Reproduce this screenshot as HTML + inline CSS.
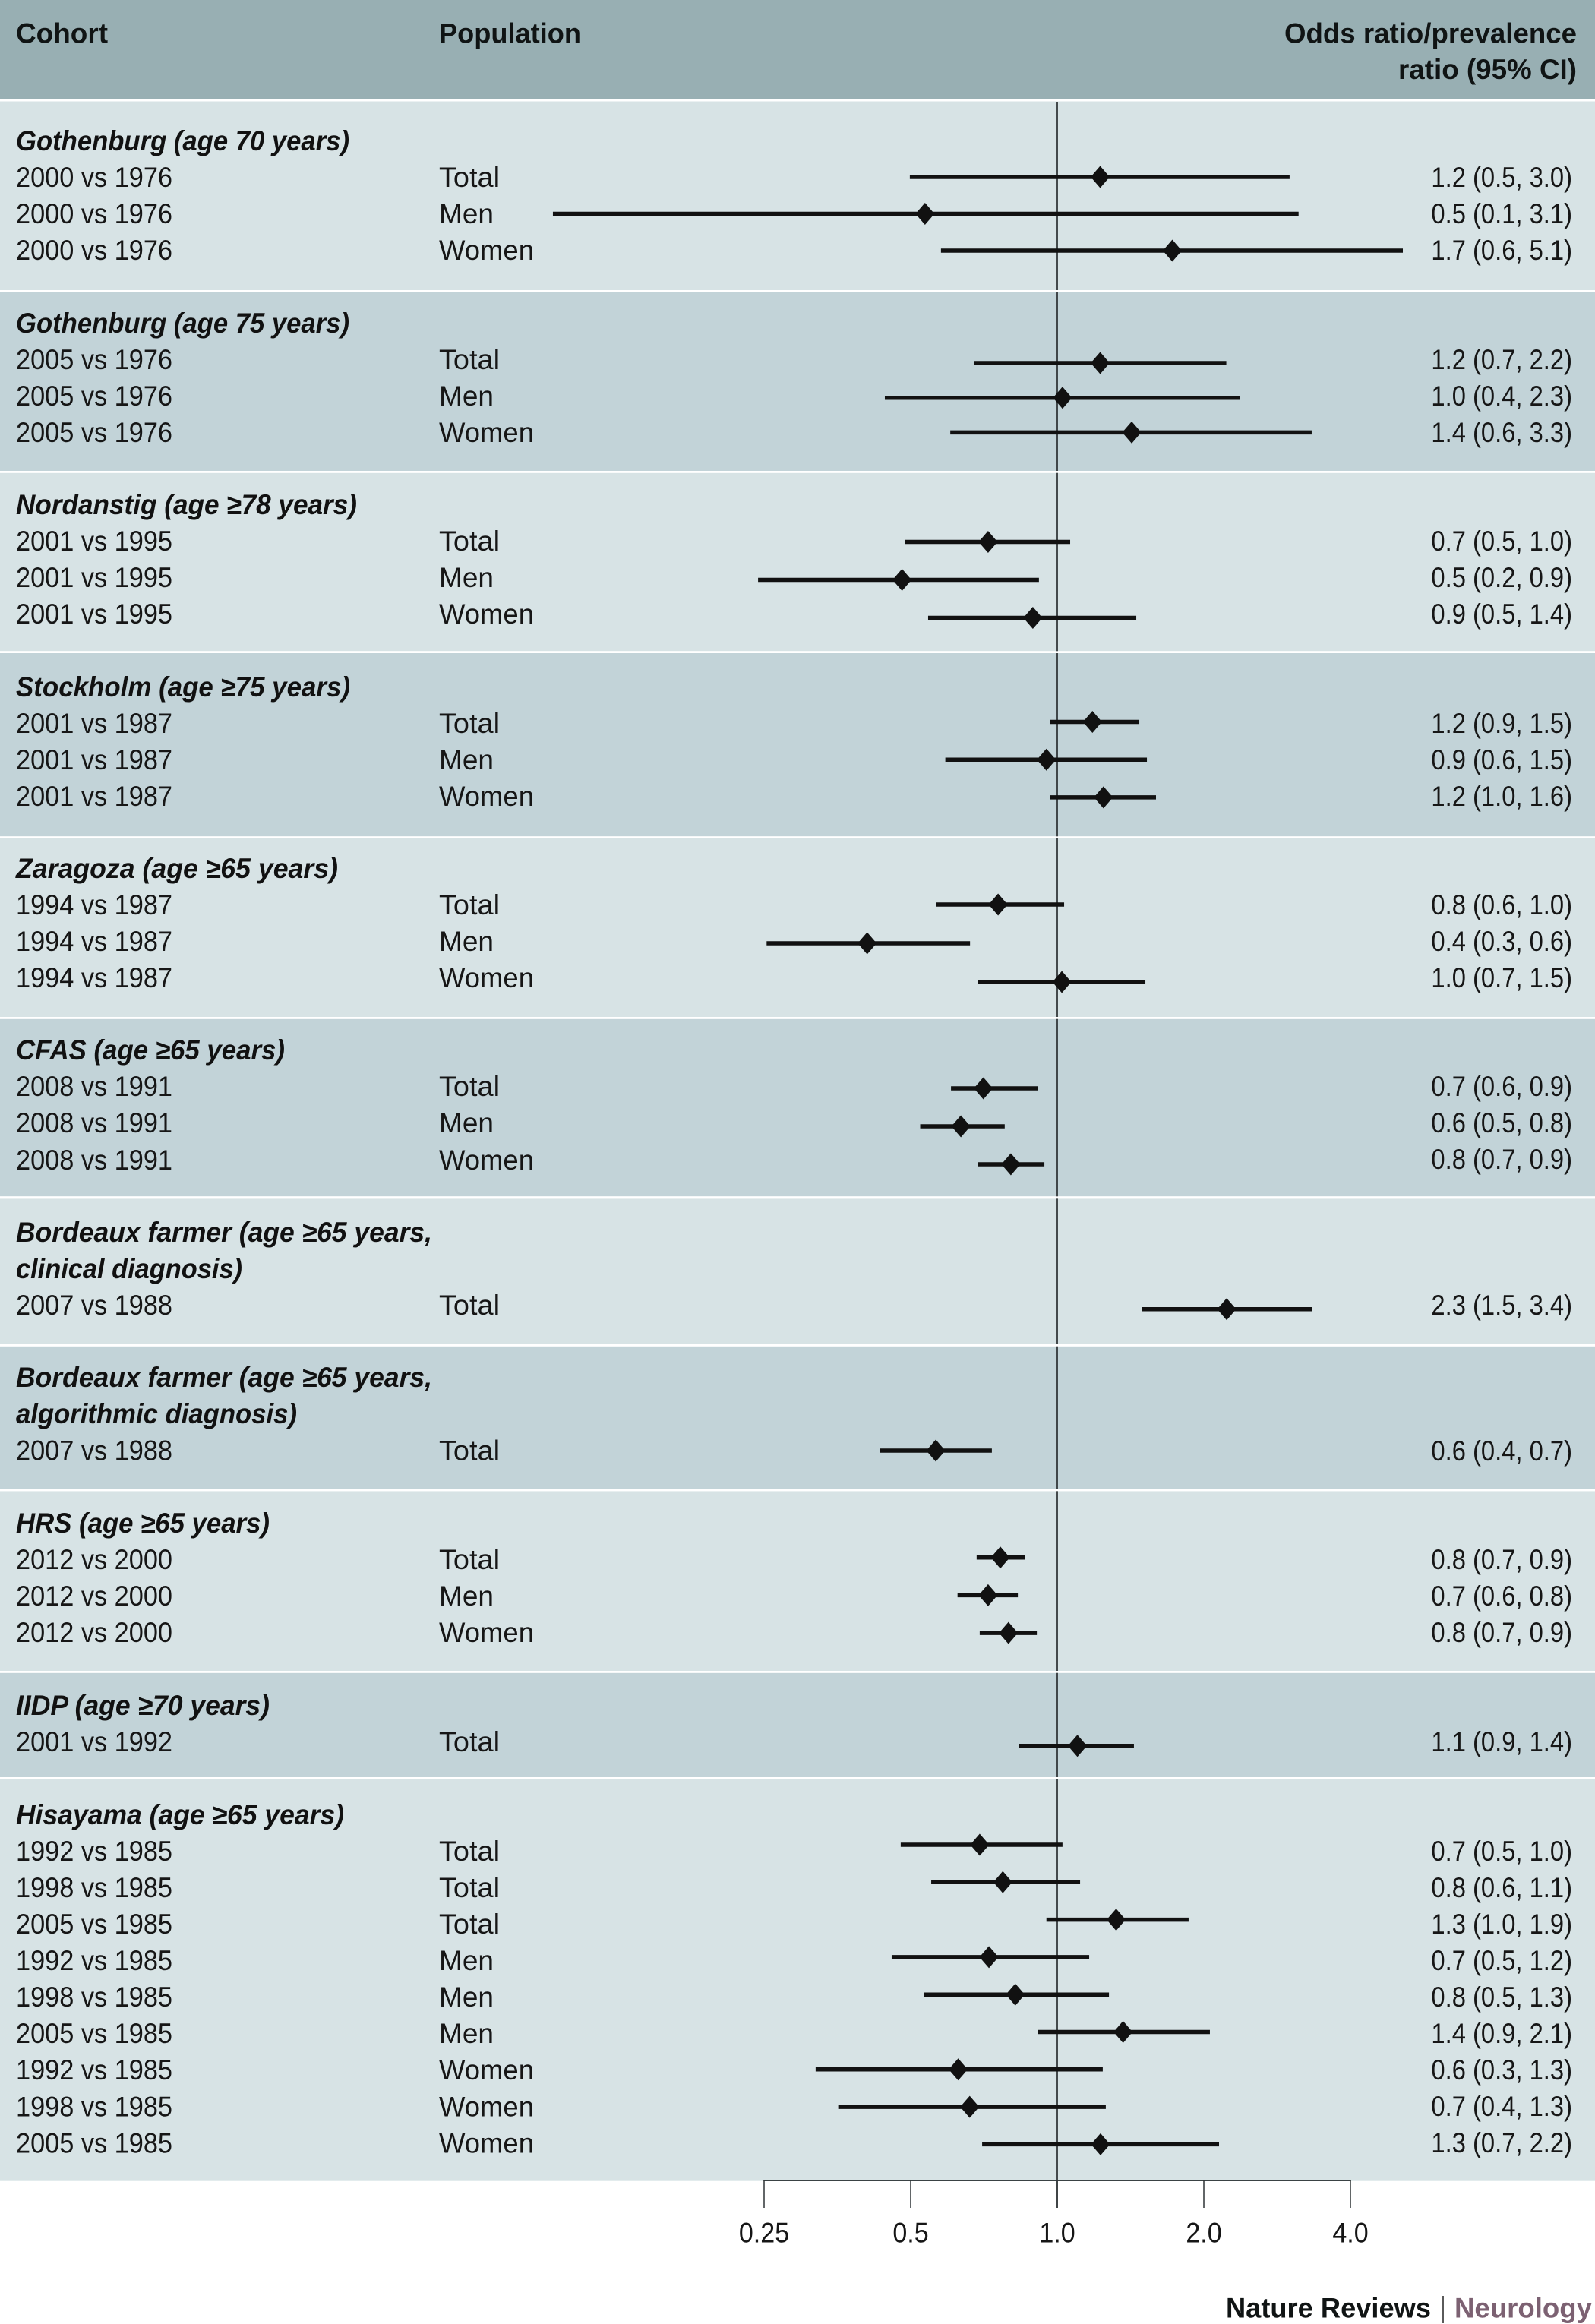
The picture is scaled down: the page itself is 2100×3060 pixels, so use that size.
<!DOCTYPE html>
<html lang="en">
<head>
<meta charset="utf-8">
<title>Forest plot of dementia prevalence cohorts</title>
<style>
html,body{margin:0;padding:0;background:#fff;width:2100px;height:3060px;overflow:hidden}
svg{display:block}
text{font-family:"Liberation Sans",sans-serif;font-size:37px;fill:#161616}
.hd{font-weight:700;fill:#101414}
.h{font-weight:700;font-style:italic;fill:#111}
</style>
</head>
<body>
<svg xmlns="http://www.w3.org/2000/svg" width="2100" height="3060" viewBox="0 0 2100 3060">
  <rect x="0" y="0" width="2100" height="3060" fill="#ffffff"/>
  <g>
    <rect x="0" y="0" width="2100" height="130.5" fill="#98afb3"/>
    <rect x="0" y="133.5" width="2100" height="248.5" fill="#d7e3e5"/>
    <rect x="0" y="385" width="2100" height="235" fill="#c2d3d8"/>
    <rect x="0" y="622.7" width="2100" height="234.6" fill="#d7e3e5"/>
    <rect x="0" y="860" width="2100" height="241.3" fill="#c2d3d8"/>
    <rect x="0" y="1104" width="2100" height="235" fill="#d7e3e5"/>
    <rect x="0" y="1341.7" width="2100" height="233.6" fill="#c2d3d8"/>
    <rect x="0" y="1578.3" width="2100" height="191.7" fill="#d7e3e5"/>
    <rect x="0" y="1772.7" width="2100" height="188" fill="#c2d3d8"/>
    <rect x="0" y="1963.3" width="2100" height="236.7" fill="#d7e3e5"/>
    <rect x="0" y="2202.7" width="2100" height="137.3" fill="#c2d3d8"/>
    <rect x="0" y="2342.7" width="2100" height="529" fill="#d7e3e5"/>
  </g>
  <g id="axis-layer"></g>
  <g fill="#ffffff">
    <rect x="0" y="382" width="2100" height="3"/>
    <rect x="0" y="620" width="2100" height="2.7"/>
    <rect x="0" y="857.3" width="2100" height="2.7"/>
    <rect x="0" y="1101.3" width="2100" height="2.7"/>
    <rect x="0" y="1339" width="2100" height="2.7"/>
    <rect x="0" y="1575.3" width="2100" height="3"/>
    <rect x="0" y="1770" width="2100" height="2.7"/>
    <rect x="0" y="1960.7" width="2100" height="2.6"/>
    <rect x="0" y="2200" width="2100" height="2.7"/>
    <rect x="0" y="2340" width="2100" height="2.7"/>
  </g>

  <g>
    <text class="hd" x="21" y="56.5" textLength="121" lengthAdjust="spacingAndGlyphs">Cohort</text>
    <text class="hd" x="578" y="56.5" textLength="187" lengthAdjust="spacingAndGlyphs">Population</text>
    <text class="hd" x="1691" y="56.5" textLength="385" lengthAdjust="spacingAndGlyphs">Odds ratio/prevalence</text>
    <text class="hd" x="1841" y="104" textLength="235" lengthAdjust="spacingAndGlyphs">ratio (95% CI)</text>
  </g>

  <g transform="translate(0 -0.8)">
    <text class="h" x="21" y="199" textLength="439" lengthAdjust="spacingAndGlyphs">Gothenburg (age 70 years)</text>
    <text x="21" y="247" textLength="206" lengthAdjust="spacingAndGlyphs">2000 vs 1976</text>
    <text x="578" y="247" textLength="80" lengthAdjust="spacingAndGlyphs">Total</text>
    <text x="21" y="295" textLength="206" lengthAdjust="spacingAndGlyphs">2000 vs 1976</text>
    <text x="578" y="295" textLength="72" lengthAdjust="spacingAndGlyphs">Men</text>
    <text x="21" y="343" textLength="206" lengthAdjust="spacingAndGlyphs">2000 vs 1976</text>
    <text x="578" y="343" textLength="125" lengthAdjust="spacingAndGlyphs">Women</text>

    <text class="h" x="21" y="439" textLength="439" lengthAdjust="spacingAndGlyphs">Gothenburg (age 75 years)</text>
    <text x="21" y="487" textLength="206" lengthAdjust="spacingAndGlyphs">2005 vs 1976</text>
    <text x="578" y="487" textLength="80" lengthAdjust="spacingAndGlyphs">Total</text>
    <text x="21" y="535" textLength="206" lengthAdjust="spacingAndGlyphs">2005 vs 1976</text>
    <text x="578" y="535" textLength="72" lengthAdjust="spacingAndGlyphs">Men</text>
    <text x="21" y="583" textLength="206" lengthAdjust="spacingAndGlyphs">2005 vs 1976</text>
    <text x="578" y="583" textLength="125" lengthAdjust="spacingAndGlyphs">Women</text>

    <text class="h" x="21" y="678" textLength="449" lengthAdjust="spacingAndGlyphs">Nordanstig (age ≥78 years)</text>
    <text x="21" y="726" textLength="206" lengthAdjust="spacingAndGlyphs">2001 vs 1995</text>
    <text x="578" y="726" textLength="80" lengthAdjust="spacingAndGlyphs">Total</text>
    <text x="21" y="774" textLength="206" lengthAdjust="spacingAndGlyphs">2001 vs 1995</text>
    <text x="578" y="774" textLength="72" lengthAdjust="spacingAndGlyphs">Men</text>
    <text x="21" y="822" textLength="206" lengthAdjust="spacingAndGlyphs">2001 vs 1995</text>
    <text x="578" y="822" textLength="125" lengthAdjust="spacingAndGlyphs">Women</text>

    <text class="h" x="21" y="918" textLength="440" lengthAdjust="spacingAndGlyphs">Stockholm (age ≥75 years)</text>
    <text x="21" y="966" textLength="206" lengthAdjust="spacingAndGlyphs">2001 vs 1987</text>
    <text x="578" y="966" textLength="80" lengthAdjust="spacingAndGlyphs">Total</text>
    <text x="21" y="1014" textLength="206" lengthAdjust="spacingAndGlyphs">2001 vs 1987</text>
    <text x="578" y="1014" textLength="72" lengthAdjust="spacingAndGlyphs">Men</text>
    <text x="21" y="1062" textLength="206" lengthAdjust="spacingAndGlyphs">2001 vs 1987</text>
    <text x="578" y="1062" textLength="125" lengthAdjust="spacingAndGlyphs">Women</text>

    <text class="h" x="21" y="1157" textLength="424" lengthAdjust="spacingAndGlyphs">Zaragoza (age ≥65 years)</text>
    <text x="21" y="1205" textLength="206" lengthAdjust="spacingAndGlyphs">1994 vs 1987</text>
    <text x="578" y="1205" textLength="80" lengthAdjust="spacingAndGlyphs">Total</text>
    <text x="21" y="1253" textLength="206" lengthAdjust="spacingAndGlyphs">1994 vs 1987</text>
    <text x="578" y="1253" textLength="72" lengthAdjust="spacingAndGlyphs">Men</text>
    <text x="21" y="1301" textLength="206" lengthAdjust="spacingAndGlyphs">1994 vs 1987</text>
    <text x="578" y="1301" textLength="125" lengthAdjust="spacingAndGlyphs">Women</text>

    <text class="h" x="21" y="1396" textLength="354" lengthAdjust="spacingAndGlyphs">CFAS (age ≥65 years)</text>
    <text x="21" y="1444" textLength="206" lengthAdjust="spacingAndGlyphs">2008 vs 1991</text>
    <text x="578" y="1444" textLength="80" lengthAdjust="spacingAndGlyphs">Total</text>
    <text x="21" y="1492" textLength="206" lengthAdjust="spacingAndGlyphs">2008 vs 1991</text>
    <text x="578" y="1492" textLength="72" lengthAdjust="spacingAndGlyphs">Men</text>
    <text x="21" y="1541" textLength="206" lengthAdjust="spacingAndGlyphs">2008 vs 1991</text>
    <text x="578" y="1541" textLength="125" lengthAdjust="spacingAndGlyphs">Women</text>

    <text class="h" x="21" y="1636" textLength="548" lengthAdjust="spacingAndGlyphs">Bordeaux farmer (age ≥65 years,</text>
    <text class="h" x="21" y="1684" textLength="298" lengthAdjust="spacingAndGlyphs">clinical diagnosis)</text>
    <text x="21" y="1732" textLength="206" lengthAdjust="spacingAndGlyphs">2007 vs 1988</text>
    <text x="578" y="1732" textLength="80" lengthAdjust="spacingAndGlyphs">Total</text>

    <text class="h" x="21" y="1827" textLength="548" lengthAdjust="spacingAndGlyphs">Bordeaux farmer (age ≥65 years,</text>
    <text class="h" x="21" y="1875" textLength="370" lengthAdjust="spacingAndGlyphs">algorithmic diagnosis)</text>
    <text x="21" y="1923.5" textLength="206" lengthAdjust="spacingAndGlyphs">2007 vs 1988</text>
    <text x="578" y="1923.5" textLength="80" lengthAdjust="spacingAndGlyphs">Total</text>

    <text class="h" x="21" y="2019" textLength="334" lengthAdjust="spacingAndGlyphs">HRS (age ≥65 years)</text>
    <text x="21" y="2067" textLength="206" lengthAdjust="spacingAndGlyphs">2012 vs 2000</text>
    <text x="578" y="2067" textLength="80" lengthAdjust="spacingAndGlyphs">Total</text>
    <text x="21" y="2115" textLength="206" lengthAdjust="spacingAndGlyphs">2012 vs 2000</text>
    <text x="578" y="2115" textLength="72" lengthAdjust="spacingAndGlyphs">Men</text>
    <text x="21" y="2163" textLength="206" lengthAdjust="spacingAndGlyphs">2012 vs 2000</text>
    <text x="578" y="2163" textLength="125" lengthAdjust="spacingAndGlyphs">Women</text>

    <text class="h" x="21" y="2259" textLength="334" lengthAdjust="spacingAndGlyphs">IIDP (age ≥70 years)</text>
    <text x="21" y="2307" textLength="206" lengthAdjust="spacingAndGlyphs">2001 vs 1992</text>
    <text x="578" y="2307" textLength="80" lengthAdjust="spacingAndGlyphs">Total</text>

    <text class="h" x="21" y="2403" textLength="432" lengthAdjust="spacingAndGlyphs">Hisayama (age ≥65 years)</text>
    <text x="21" y="2451" textLength="206" lengthAdjust="spacingAndGlyphs">1992 vs 1985</text>
    <text x="578" y="2451" textLength="80" lengthAdjust="spacingAndGlyphs">Total</text>
    <text x="21" y="2499" textLength="206" lengthAdjust="spacingAndGlyphs">1998 vs 1985</text>
    <text x="578" y="2499" textLength="80" lengthAdjust="spacingAndGlyphs">Total</text>
    <text x="21" y="2547" textLength="206" lengthAdjust="spacingAndGlyphs">2005 vs 1985</text>
    <text x="578" y="2547" textLength="80" lengthAdjust="spacingAndGlyphs">Total</text>
    <text x="21" y="2595" textLength="206" lengthAdjust="spacingAndGlyphs">1992 vs 1985</text>
    <text x="578" y="2595" textLength="72" lengthAdjust="spacingAndGlyphs">Men</text>
    <text x="21" y="2643" textLength="206" lengthAdjust="spacingAndGlyphs">1998 vs 1985</text>
    <text x="578" y="2643" textLength="72" lengthAdjust="spacingAndGlyphs">Men</text>
    <text x="21" y="2691" textLength="206" lengthAdjust="spacingAndGlyphs">2005 vs 1985</text>
    <text x="578" y="2691" textLength="72" lengthAdjust="spacingAndGlyphs">Men</text>
    <text x="21" y="2739" textLength="206" lengthAdjust="spacingAndGlyphs">1992 vs 1985</text>
    <text x="578" y="2739" textLength="125" lengthAdjust="spacingAndGlyphs">Women</text>
    <text x="21" y="2787.5" textLength="206" lengthAdjust="spacingAndGlyphs">1998 vs 1985</text>
    <text x="578" y="2787.5" textLength="125" lengthAdjust="spacingAndGlyphs">Women</text>
    <text x="21" y="2835.5" textLength="206" lengthAdjust="spacingAndGlyphs">2005 vs 1985</text>
    <text x="578" y="2835.5" textLength="125" lengthAdjust="spacingAndGlyphs">Women</text>
  </g>

  <g id="marks-layer"></g>
  <g id="values-layer" transform="translate(0 -0.8)"></g>

  <g>
    <text class="hd" x="1614" y="3051.5" textLength="270" lengthAdjust="spacingAndGlyphs" fill="#111">Nature Reviews</text>
    <line x1="1900" y1="3023" x2="1900" y2="3059" stroke="#222" stroke-width="1.5"/>
    <text class="hd" x="1915" y="3051.5" textLength="181" lengthAdjust="spacingAndGlyphs" style="fill:#7c6172">Neurology</text>
  </g>
</svg>

<script>
// Chart data: estimate and confidence limits per row
const groupRowCounts = [3, 3, 3, 3, 3, 3, 1, 1, 3, 1, 9];
const estimates = [
  1.225, 0.535, 1.723, 1.225, 1.025, 1.422, 0.721, 0.48, 0.891,
  1.181, 0.95, 1.244, 0.756, 0.407, 1.022, 0.705, 0.634, 0.803,
  2.228, 0.563, 0.764, 0.721, 0.794, 1.10,
  0.693, 0.773, 1.321, 0.724, 0.82, 1.365, 0.626, 0.661, 1.227
];
const lowers = [
  0.498, 0.0921, 0.577, 0.675, 0.4425, 0.603, 0.486, 0.243, 0.543,
  0.965, 0.589, 0.968, 0.563, 0.253, 0.688, 0.605, 0.523, 0.687,
  1.493, 0.432, 0.683, 0.624, 0.693, 0.833,
  0.477, 0.551, 0.95, 0.457, 0.533, 0.914, 0.319, 0.355, 0.701
];
const uppers = [
  3.0, 3.13, 5.125, 2.224, 2.376, 3.33, 1.063, 0.917, 1.453,
  1.474, 1.528, 1.595, 1.033, 0.662, 1.517, 0.914, 0.78, 0.941,
  3.34, 0.734, 0.857, 0.83, 0.908, 1.437,
  1.025, 1.114, 1.861, 1.163, 1.277, 2.058, 1.24, 1.258, 2.149
];
const printedValues = [
  "1.2 (0.5, 3.0)", "0.5 (0.1, 3.1)", "1.7 (0.6, 5.1)",
  "1.2 (0.7, 2.2)", "1.0 (0.4, 2.3)", "1.4 (0.6, 3.3)",
  "0.7 (0.5, 1.0)", "0.5 (0.2, 0.9)", "0.9 (0.5, 1.4)",
  "1.2 (0.9, 1.5)", "0.9 (0.6, 1.5)", "1.2 (1.0, 1.6)",
  "0.8 (0.6, 1.0)", "0.4 (0.3, 0.6)", "1.0 (0.7, 1.5)",
  "0.7 (0.6, 0.9)", "0.6 (0.5, 0.8)", "0.8 (0.7, 0.9)",
  "2.3 (1.5, 3.4)", "0.6 (0.4, 0.7)",
  "0.8 (0.7, 0.9)", "0.7 (0.6, 0.8)", "0.8 (0.7, 0.9)",
  "1.1 (0.9, 1.4)",
  "0.7 (0.5, 1.0)", "0.8 (0.6, 1.1)", "1.3 (1.0, 1.9)",
  "0.7 (0.5, 1.2)", "0.8 (0.5, 1.3)", "1.4 (0.9, 2.1)",
  "0.6 (0.3, 1.3)", "0.7 (0.4, 1.3)", "1.3 (0.7, 2.2)"
];
const tickValues = [0.25, 0.5, 1, 2, 4];
const tickLabels = ["0.25", "0.5", "1.0", "2.0", "4.0"];

// Layout of each cohort band: where its marks and printed values begin
const bandLayout = [
  {markStart: 233, markPitch: 48.5, valueStart: 247},
  {markStart: 478, markPitch: 45.7, valueStart: 487},
  {markStart: 713.5, markPitch: 50, valueStart: 726},
  {markStart: 950.5, markPitch: 49.7, valueStart: 966},
  {markStart: 1191, markPitch: 51, valueStart: 1205},
  {markStart: 1433, markPitch: 50, valueStart: 1444},
  {markStart: 1723.7, markPitch: 0, valueStart: 1732},
  {markStart: 1910, markPitch: 0, valueStart: 1924},
  {markStart: 2050.7, markPitch: 49.7, valueStart: 2067},
  {markStart: 2298.7, markPitch: 0, valueStart: 2307},
  {markStart: 2429, markPitch: 49.3, valueStart: 2451}
];

const SVG_NS = "http://www.w3.org/2000/svg";
const xAxisCentre = 1392;
const pxPerDoubling = 193;
const axisY = 2871;
const tickBottom = 2907;

function xScale(v) {
  return xAxisCentre + pxPerDoubling * Math.log2(v);
}
function make(tag, parent) {
  const el = document.createElementNS(SVG_NS, tag);
  parent.appendChild(el);
  return el;
}

const axisLayer = document.getElementById("axis-layer");

const centreLine = make("line", axisLayer);
centreLine.setAttribute("x1", xScale(1));
centreLine.setAttribute("x2", xScale(1));
centreLine.setAttribute("y1", 134);
centreLine.setAttribute("y2", tickBottom);
centreLine.setAttribute("stroke", "#1f2426");
centreLine.setAttribute("stroke-width", 1.6);



const axisLine = make("line", axisLayer);
axisLine.setAttribute("x1", xScale(tickValues[0]) - 0.75);
axisLine.setAttribute("x2", xScale(tickValues[tickValues.length - 1]) + 0.75);
axisLine.setAttribute("y1", axisY);
axisLine.setAttribute("y2", axisY);
axisLine.setAttribute("stroke", "#3a4244");
axisLine.setAttribute("stroke-width", 2);



tickValues.forEach(function (v, i) {
  const tick = make("line", axisLayer);
  tick.setAttribute("x1", xScale(v));
  tick.setAttribute("x2", xScale(v));
  tick.setAttribute("y1", axisY);
  tick.setAttribute("y2", tickBottom);
  tick.setAttribute("stroke", "#2e3335");
  tick.setAttribute("stroke-width", 1.5);
  
  

  const label = make("text", axisLayer);
  label.setAttribute("transform", "translate(" + xScale(v) + " 2952.5) scale(0.92 1)");
  label.setAttribute("text-anchor", "middle");
  label.textContent = tickLabels[i];
  
  
});

const marksLayer = document.getElementById("marks-layer");
const valuesLayer = document.getElementById("values-layer");

let rowIndex = 0;
groupRowCounts.forEach(function (count, g) {
  const band = bandLayout[g];
  for (let r = 0; r < count; r++, rowIndex++) {
    const y = band.markStart + band.markPitch * r;

    const ci = make("line", marksLayer);
    ci.setAttribute("x1", xScale(lowers[rowIndex]));
    ci.setAttribute("x2", xScale(uppers[rowIndex]));
    ci.setAttribute("y1", y);
    ci.setAttribute("y2", y);
    ci.setAttribute("stroke", "#111111");
    ci.setAttribute("stroke-width", 5.5);
    
    

    const cx = xScale(estimates[rowIndex]);
    const diamond = make("polygon", marksLayer);
    diamond.setAttribute("points",
      cx + "," + (y - 14.5) + " " + (cx + 12.5) + "," + y + " " + cx + "," + (y + 14.5) + " " + (cx - 12.5) + "," + y);
    diamond.setAttribute("fill", "#111111");
    
    

    const value = make("text", valuesLayer);
    value.setAttribute("transform", "translate(2070 " + (band.valueStart + 48 * r) + ") scale(0.885 1)");
    value.setAttribute("text-anchor", "end");
    value.textContent = printedValues[rowIndex];
    
    
  }
});
</script>
</body>
</html>
